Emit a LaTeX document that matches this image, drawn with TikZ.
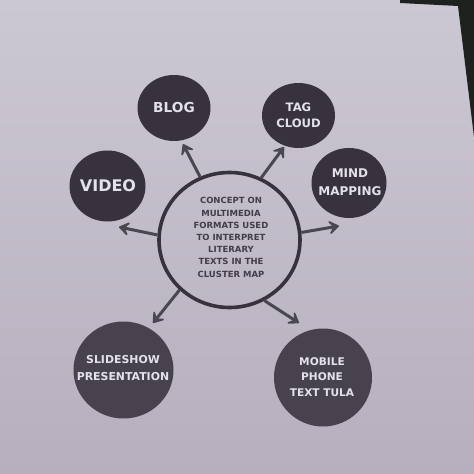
\documentclass[tikz,border=0pt]{standalone}
\usepackage{fontspec}
\setmainfont{DejaVu Sans}
\usetikzlibrary{arrows.meta,shapes.geometric}
\definecolor{papertop}{RGB}{204,200,211}
\definecolor{paperbot}{RGB}{182,175,190}
\definecolor{ink}{RGB}{55,50,61}
\definecolor{inklow}{RGB}{72,66,78}
\definecolor{txtw}{RGB}{228,225,234}
\definecolor{ctxt}{RGB}{66,61,72}
\definecolor{backdrop}{RGB}{30,34,30}
\tikzset{
  bubble/.style={ellipse, fill=ink, draw=none, inner sep=0pt},
  btext/.style={text=txtw, align=center, inner sep=0pt},
  hub/.style={ellipse, draw=ink, line width=3.6pt, fill=none, inner sep=0pt,
    minimum width=141pt, minimum height=135pt},
  link/.style={draw=ink!90!white, line width=3pt,
    -{Stealth[length=13pt,width=18pt,inset=6.5pt,round]}}
}
\begin{document}
\begin{tikzpicture}[x=1pt,y=-1pt]
\useasboundingbox (0,0) rectangle (474,474);
\shade[top color=papertop, bottom color=paperbot] (0,0) rectangle (474,474);
\fill[backdrop] (400,0) -- (474,0) -- (474,137) -- (458,6) -- (400,3) -- cycle;

\node[hub] (c) at (229.5,240) {};
\node[text=ctxt, font=\bfseries\fontsize{8.5}{12.2}\selectfont, align=center] (ct) at (231,237.5)
  {CONCEPT ON\\MULTIMEDIA\\FORMATS USED\\TO INTERPRET\\LITERARY\\TEXTS IN THE\\CLUSTER MAP};

\node[bubble, minimum width=73pt, minimum height=66pt] (blog) at (174,108) {};
\node[btext, font=\bfseries\fontsize{13.7}{16}\selectfont] (blogt) at (174,107.5) {BLOG};

\node[bubble, minimum width=73pt, minimum height=65pt] (tag) at (298.5,115.5) {};
\node[btext, font=\bfseries\fontsize{11.6}{16.5}\selectfont] (tagt) at (298.5,115.5) {TAG\\CLOUD};

\node[bubble, minimum width=75pt, minimum height=70pt] (mind) at (349,183) {};
\node[btext, font=\bfseries\fontsize{12}{17.5}\selectfont] (mindt) at (350,182) {MIND\\MAPPING};

\node[bubble, minimum width=76pt, minimum height=71pt] (video) at (107.5,186) {};
\node[btext, font=\bfseries\fontsize{16}{18}\selectfont] (videot) at (108,186) {VIDEO};

\node[bubble, fill=inklow, minimum width=100pt, minimum height=97pt] (slide) at (123.5,370) {};
\node[btext, font=\bfseries\fontsize{10.9}{17}\selectfont] (slidet) at (123,368) {SLIDESHOW\\PRESENTATION};

\node[bubble, fill=inklow, minimum width=98pt, minimum height=98pt] (mob) at (323,377.5) {};
\node[btext, font=\bfseries\fontsize{10.6}{15.5}\selectfont] (mobt) at (322,377) {MOBILE\\PHONE\\TEXT TULA};

\coordinate (tB) at (183,144);
\coordinate (tT) at (284,147);
\coordinate (tM) at (339,226);
\coordinate (tV) at (119,227);
\coordinate (tS) at (153,323);
\coordinate (tMo) at (299,323);

\draw[link] (c.115.5) -- (tB);
\draw[link] (c.63) -- (tT);
\draw[link] (c.6) -- (tM);
\draw[link] (c.176) -- (tV);
\draw[link] (c.225.5) -- (tS);
\draw[link] (c.-60) -- (tMo);
\end{tikzpicture}
\end{document}
